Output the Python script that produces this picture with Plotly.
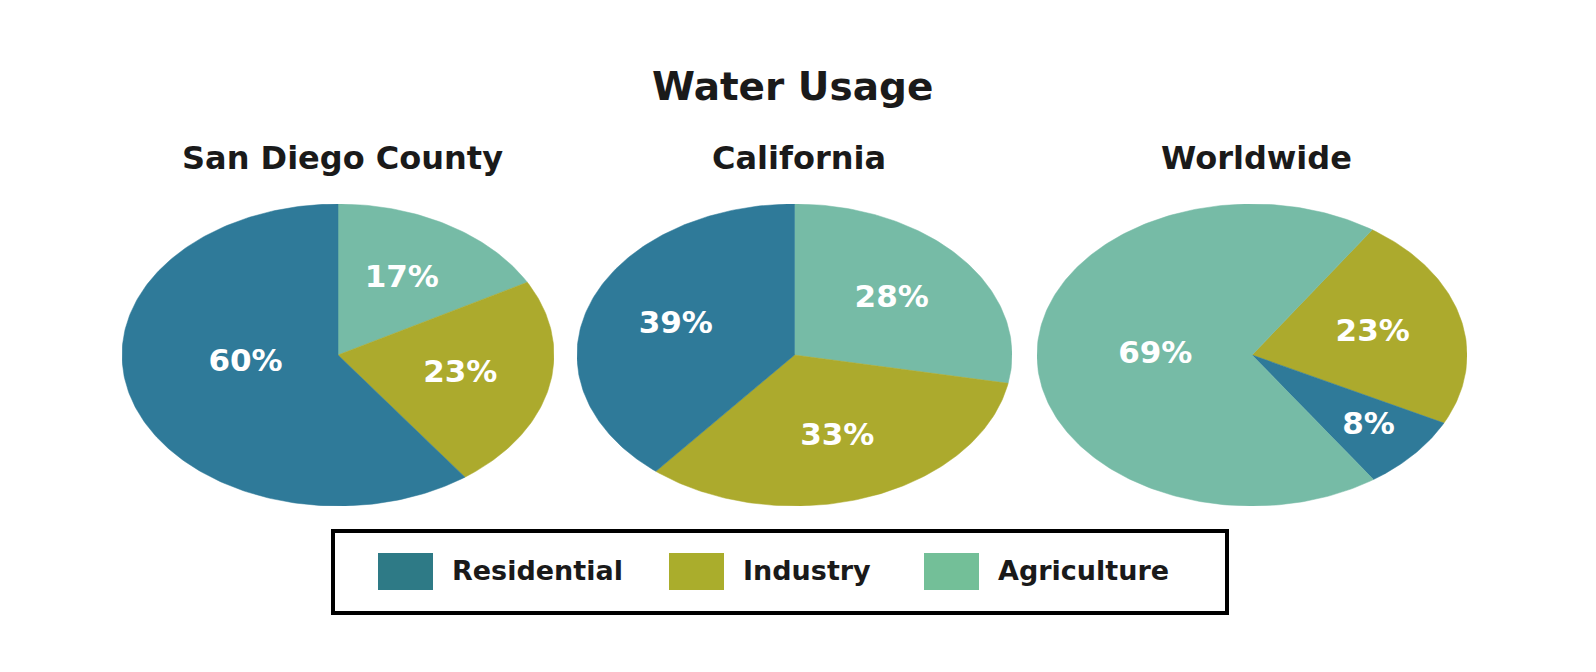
import numpy as np
import plotly.graph_objects as go

W, H = 1596, 672

# ---- data ----
categories = ["Residential", "Industry", "Agriculture"]
regions = ["San Diego County", "California", "Worldwide"]
san_diego = [60, 23, 17]
california = [39, 33, 28]
worldwide = [8, 23, 69]
region_values = [san_diego, california, worldwide]
chart_title = "Water Usage"

# ---- style ----
pie_colors = {"Residential": "#2f7a99", "Industry": "#acaa2d", "Agriculture": "#76bba6"}
legend_colors = {"Residential": "#2e7a86", "Industry": "#aaad2c", "Agriculture": "#73bf98"}
slice_order = [["Agriculture", "Industry", "Residential"],
               ["Agriculture", "Industry", "Residential"],
               ["Industry", "Residential", "Agriculture"]]
rotation_deg = [0, 0, 34]
pie_x_px = [(122, 554), (577, 1012), (1037, 1467)]
pie_y_px = (204, 506)
FONT = "DejaVu Sans"

def px_x(v):
    return v / W

def px_y(v):
    return 1 - v / H

fig = go.Figure()

for k, (name, vals) in enumerate(zip(regions, region_values)):
    ax = "" if k == 0 else str(k + 1)
    xref, yref = "x" + ax, "y" + ax
    total = float(sum(vals))
    start = np.deg2rad(rotation_deg[k])
    lab_x, lab_y, lab_t = [], [], []
    for cat in slice_order[k]:
        v = vals[categories.index(cat)]
        frac = v / total
        end = start + frac * 2 * np.pi
        th = np.linspace(start, end, max(int(np.degrees(end - start)), 2) + 1)
        xs = np.concatenate([[0], np.sin(th), [0]])
        ys = np.concatenate([[0], np.cos(th), [0]])
        fig.add_trace(go.Scatter(
            x=xs, y=ys, xaxis=xref, yaxis=yref, mode="lines", fill="toself",
            fillcolor=pie_colors[cat], line=dict(color=pie_colors[cat], width=0.5),
            name=cat, showlegend=False, hoverinfo="text",
            text=f"{name}<br>{cat}: {v}%", hoveron="fills"))
        mid = (start + end) / 2
        r = 0.58
        if frac > 0.5:
            r = 0.45
        elif frac < 0.1:
            r = 0.72
        lab_x.append(r * np.sin(mid))
        lab_y.append(r * np.cos(mid) * (0.4 if frac > 0.5 else 1.0))
        lab_t.append(f"<b>{v}%</b>")
        start = end
    fig.add_trace(go.Scatter(
        x=lab_x, y=lab_y, xaxis=xref, yaxis=yref, mode="text", text=lab_t,
        textfont=dict(family=FONT, size=31, color="white"),
        showlegend=False, hoverinfo="skip"))
    x0, x1 = pie_x_px[k]
    axis_common = dict(range=[-1, 1], visible=False, fixedrange=True)
    fig.update_layout(**{
        "xaxis" + ax: dict(domain=[px_x(x0), px_x(x1)], anchor=yref, **axis_common),
        "yaxis" + ax: dict(domain=[px_y(pie_y_px[1]), px_y(pie_y_px[0])], anchor=xref, **axis_common),
    })
    # subplot title
    fig.add_annotation(
        x=px_x((x0 + x1) / 2 + 4), y=px_y(158), xref="paper", yref="paper",
        text=f"<b>{name}</b>", showarrow=False, xanchor="center", yanchor="middle",
        font=dict(family=FONT, size=32, color="#1a1a1a"))

# main title
fig.add_annotation(
    x=px_x(792), y=px_y(86), xref="paper", yref="paper", text=f"<b>{chart_title}</b>",
    showarrow=False, xanchor="center", yanchor="middle",
    font=dict(family=FONT, size=39, color="#1a1a1a"))

# legend (box, swatches, labels)
shapes = [dict(type="rect", xref="paper", yref="paper",
               x0=px_x(333), x1=px_x(1227), y0=px_y(613), y1=px_y(531),
               line=dict(color="black", width=4), fillcolor="white")]
swatch_left = [378, 669, 924]
for cat, sx in zip(categories, swatch_left):
    shapes.append(dict(type="rect", xref="paper", yref="paper",
                       x0=px_x(sx), x1=px_x(sx + 55), y0=px_y(590), y1=px_y(553),
                       line=dict(width=0), fillcolor=legend_colors[cat]))
    fig.add_annotation(
        x=px_x(sx + 72), y=px_y(570), xref="paper", yref="paper", text=f"<b>{cat}</b>",
        showarrow=False, xanchor="left", yanchor="middle",
        font=dict(family=FONT, size=27, color="#1a1a1a"))

fig.update_layout(
    width=W, height=H, margin=dict(l=0, r=0, t=0, b=0),
    paper_bgcolor="white", plot_bgcolor="white", shapes=shapes, showlegend=False)

fig.write_html("out.html")
